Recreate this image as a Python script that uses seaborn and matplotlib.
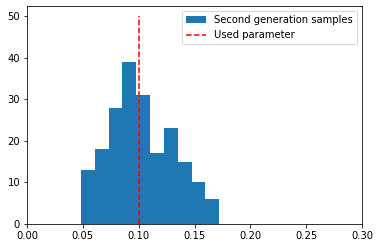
import numpy as np
import pandas as pd
import matplotlib
matplotlib.use("Agg")
import matplotlib.pyplot as plt
import seaborn as sns
from matplotlib.patches import Patch
from matplotlib.lines import Line2D

# Data
bin_edges = [0.0482, 0.0606, 0.0730, 0.0854, 0.0978, 0.1102,
             0.1226, 0.1350, 0.1474, 0.1598, 0.1722]
counts = [13, 18, 28, 39, 31, 17, 23, 15, 10, 6]
used_parameter = 0.10
line_top = 50
x_limits = [0.0, 0.30]
x_ticks = [0.00, 0.05, 0.10, 0.15, 0.20, 0.25, 0.30]
y_ticks = [0, 10, 20, 30, 40, 50]
hist_label = "Second generation samples"
line_label = "Used parameter"

centers = [(bin_edges[i] + bin_edges[i + 1]) / 2 for i in range(len(counts))]
df = pd.DataFrame({"value": centers, "count": counts})

plt.rcParams["font.family"] = ["DejaVu Sans"]
plt.rcParams["font.size"] = 10

fig = plt.figure(figsize=(379 / 72, 248 / 72), dpi=72)
ax = fig.add_axes([27 / 379, 1 - 224 / 248, (362 - 27) / 379, (224 - 6) / 248])

sns.histplot(data=df, x="value", weights="count", bins=bin_edges, ax=ax,
             color="#1f77b4", alpha=1.0, edgecolor="none", linewidth=0)
ax.plot([used_parameter, used_parameter], [0, line_top], "r--", linewidth=1.5)

ax.set_xlim(*x_limits)
ax.set_ylim(0, line_top * 1.05)
ax.set_xticks(x_ticks)
ax.set_xticklabels([f"{t:.2f}" for t in x_ticks])
ax.set_yticks(y_ticks)
ax.set_xlabel("")
ax.set_ylabel("")

handles = [Patch(facecolor="#1f77b4"),
           Line2D([0], [0], color="red", linestyle="--", linewidth=1.5)]
ax.legend(handles, [hist_label, line_label], loc="upper right")

fig.savefig("out.png", dpi=72)
